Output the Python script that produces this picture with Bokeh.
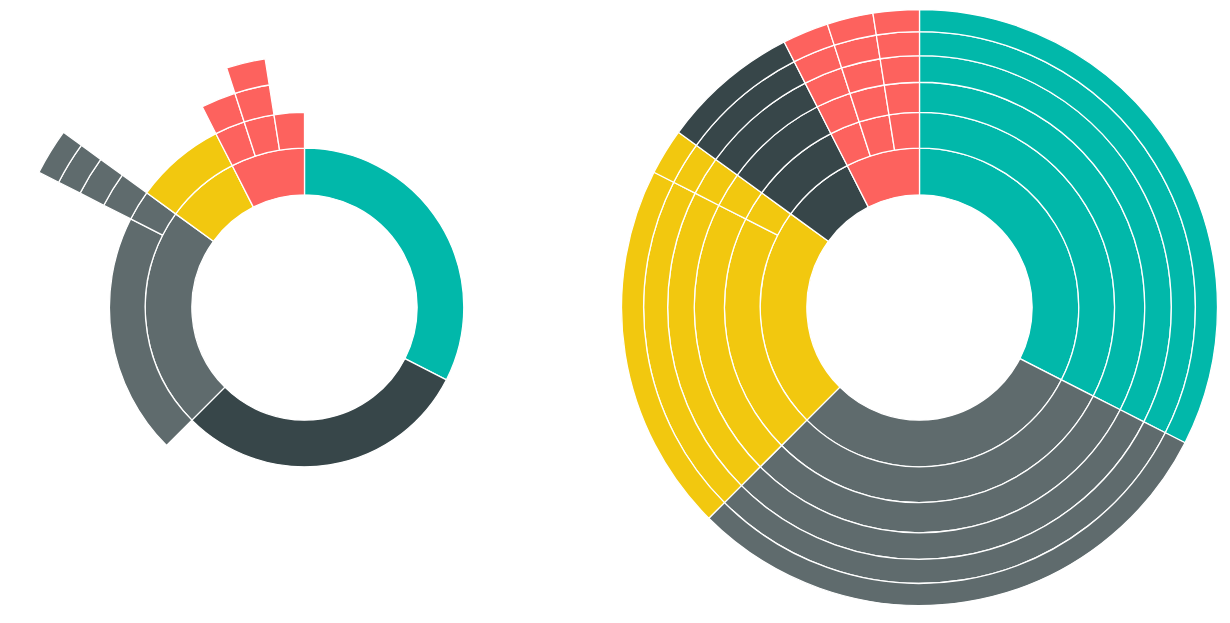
import numpy as np
from bokeh.plotting import figure
from bokeh.models import Range1d, ColumnDataSource
from bokeh.embed import file_html
from bokeh.resources import INLINE

# leaves of the hierarchy, in clockwise order from 12 o'clock
leaf_group = [0, 1, 2, 2, 3, 4, 4, 4]
leaf_size = [13, 12, 8, 1, 3, 1, 1, 1]
leaf_depth = [1, 1, 2, 6, 2, 3, 4, 2]

# colour of each top-level group in the two charts
left_colors = ["#01B8AA", "#374649", "#5F6B6D", "#F2C80F", "#FD625E"]
right_colors = ["#01B8AA", "#5F6B6D", "#F2C80F", "#374649", "#FD625E"]

max_depth = max(leaf_depth)
outer_r = 298
n_rings = max_depth + 1  # root takes the hole in the middle
radii = [outer_r * np.sqrt(k / n_rings) for k in range(n_rings + 1)]
unit = 360.0 / sum(leaf_size)


def cells(cx, cy, colors, extend):
    d = dict(x=[], y=[], r0=[], r1=[], a0=[], a1=[], c=[])

    def add(level, t0, t1, color):
        # t0/t1 measured clockwise from the top, in degrees
        d["x"].append(cx)
        d["y"].append(cy)
        d["r0"].append(radii[level])
        d["r1"].append(radii[level + 1])
        d["a0"].append(np.radians(90 - t1))
        d["a1"].append(np.radians(90 - t0))
        d["c"].append(color)

    # first ring: one cell per group
    t = 0.0
    for g in range(len(colors)):
        s = sum(sz for lg, sz in zip(leaf_group, leaf_size) if lg == g) * unit
        add(1, t, t + s, colors[g])
        t += s

    # outer rings: one cell per leaf and level
    t = 0.0
    for g, sz, dep in zip(leaf_group, leaf_size, leaf_depth):
        s = sz * unit
        last = max_depth if extend else dep
        for lev in range(2, last + 1):
            add(lev, t, t + s, colors[g])
        t += s
    return ColumnDataSource(d)


W, H = 1226, 615
p = figure(width=W, height=H, output_backend="svg", toolbar_location=None,
           x_range=Range1d(0, W), y_range=Range1d(-H, 0),
           x_axis_location=None, y_axis_location=None, min_border=0,
           outline_line_color=None)
p.grid.visible = False

for cx, cols, ext in [(304, left_colors, False), (919, right_colors, True)]:
    src = cells(cx, -307, cols, ext)
    p.annular_wedge(x="x", y="y", inner_radius="r0", outer_radius="r1",
                    start_angle="a0", end_angle="a1", fill_color="c",
                    line_color="white", line_width=1.3, source=src)

open("out.html", "w").write(file_html(p, INLINE))
